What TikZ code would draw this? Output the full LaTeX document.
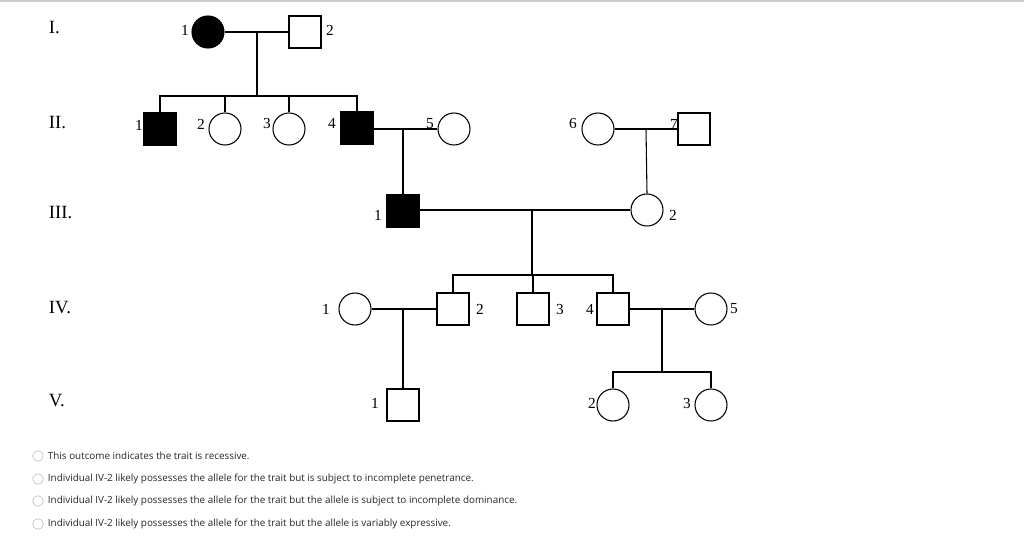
\documentclass[tikz,border=0pt]{standalone}
\usepackage{fontspec}
\setmainfont{Liberation Serif}
\newfontfamily\optfont{Open Sans}
\begin{document}
\begin{tikzpicture}[x=0.75pt,y=-0.75pt,line width=0.8pt,
  fem/.style={circle,draw,minimum size=24pt,inner sep=0pt},
  mal/.style={rectangle,draw,minimum size=24pt,inner sep=0pt},
  aff/.style={fill=black},
  gen/.style={font=\fontsize{14}{16}\selectfont,anchor=west},
  num/.style={font=\fontsize{11.5}{13}\selectfont},
  opt/.style={font=\optfont\fontsize{7.4}{9}\selectfont,anchor=west,text=black!85},
  radio/.style={circle,draw=black!25,line width=0.5pt,minimum size=8pt,inner sep=0pt}]
\useasboundingbox (0,0) rectangle (1024,541);
\draw[black!20,line width=1pt] (0,1) -- (1024,1);
% generation labels
\node[gen] (gI) at (44,28) {I.};
\node[gen] (gII) at (44,123) {II.};
\node[gen] (gIII) at (44,213) {III.};
\node[gen] (gIV) at (44,308) {IV.};
\node[gen] (gV) at (44,401) {V.};
% Generation I
\node[fem,aff] (i1) at (208,32) {};
\node[mal] (i2) at (305,32) {};
\node[num] (li1) at (185,30) {1};
\node[num] (li2) at (330,30) {2};
% Generation II
\node[mal,aff] (ii1) at (160,129) {};
\node[fem] (ii2) at (225,129) {};
\node[fem] (ii3) at (289,129) {};
\node[mal,aff] (ii4) at (357,128) {};
\node[fem] (ii5) at (454,129) {};
\node[fem] (ii6) at (598,129) {};
\node[mal] (ii7) at (694,129) {};
\node[num] (lii1) at (139,125) {1};
\node[num] (lii2) at (201,124) {2};
\node[num] (lii3) at (267,124) {3};
\node[num] (lii4) at (332,123) {4};
\node[num] (lii5) at (430,124) {5};
\node[num] (lii6) at (573,124) {6};
\node[num] (lii7) at (674,124) {7};
% Generation III
\node[mal,aff] (iii1) at (403,211) {};
\node[fem] (iii2) at (647,210) {};
\node[num] (liii1) at (378,215) {1};
\node[num] (liii2) at (673,215) {2};
% Generation IV
\node[fem] (iv1) at (355,309) {};
\node[mal] (iv2) at (453,309) {};
\node[mal] (iv3) at (533,309) {};
\node[mal] (iv4) at (613,309) {};
\node[fem] (iv5) at (711,309) {};
\node[num] (liv1) at (326,309) {1};
\node[num] (liv2) at (480,309) {2};
\node[num] (liv3) at (560,309) {3};
\node[num] (liv4) at (590,309) {4};
\node[num] (liv5) at (734,309) {5};
% Generation V
\node[mal] (v1) at (403,405) {};
\node[fem] (v2) at (613,405) {};
\node[fem] (v3) at (711,405) {};
\node[num] (lv1) at (375,403) {1};
\node[num] (lv2) at (592,403) {2};
\node[num] (lv3) at (687,403) {3};
% connectors
\draw (i1) -- (i2);
\coordinate (m1) at (257,32);
\coordinate (s1) at (257,96);
\draw (m1) -- (s1);
\draw (ii1.north) |- (s1) -| (ii4.north);
\draw (ii2.north) -- (ii2.north |- s1);
\draw (ii3.north) -- (ii3.north |- s1);
\draw (ii4.east |- ii5) -- (ii5);
\draw (ii6) -- (ii7);
\coordinate (m2) at (403,129);
\draw (m2) -- (iii1.north);
\coordinate (m3) at (646,129);
\draw (m3) -- (iii2.north);
\draw (iii1.east |- iii2) -- (iii2);
\coordinate (m4) at (532,210);
\coordinate (s4) at (532,275);
\draw (m4) -- (s4);
\draw (iv2.north) |- (s4) -| (iv4.north);
\draw (iv3.north) -- (iv3.north |- s4);
\draw (iv1) -- (iv2);
\coordinate (m5) at (403,309);
\draw (m5) -- (v1.north);
\draw (iv4) -- (iv5);
\coordinate (m6) at (662,309);
\coordinate (s6) at (662,372);
\draw (m6) -- (s6);
\draw (v2.north) |- (s6) -| (v3.north);
% options
\node[radio] (r1) at (38,456) {};
\node[radio] (r2) at (38,479) {};
\node[radio] (r3) at (38,501) {};
\node[radio] (r4) at (38,524) {};
\node[opt] (o1) at (43,456) {This outcome indicates the trait is recessive.};
\node[opt] (o2) at (43,479) {Individual IV-2 likely possesses the allele for the trait but is subject to incomplete penetrance.};
\node[opt] (o3) at (43,501) {Individual IV-2 likely possesses the allele for the trait but the allele is subject to incomplete dominance.};
\node[opt] (o4) at (43,524) {Individual IV-2 likely possesses the allele for the trait but the allele is variably expressive.};
\end{tikzpicture}
\end{document}
